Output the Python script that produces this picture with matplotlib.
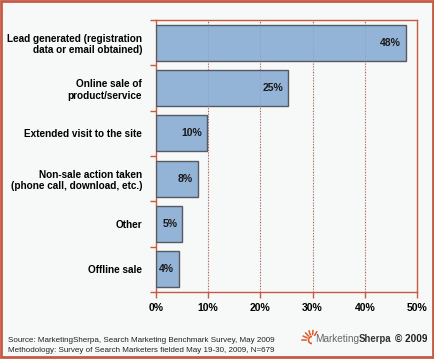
import numpy as np
import matplotlib.pyplot as plt
from matplotlib.lines import Line2D
from matplotlib.patches import Rectangle, Arc

plt.rcParams['font.family'] = ['Liberation Sans', 'DejaVu Sans']

categories = ['Lead generated (registration\ndata or email obtained)',
              'Online sale of\nproduct/service',
              'Extended visit to the site',
              'Non-sale action taken\n(phone call, download, etc.)',
              'Other',
              'Offline sale']
values = [47.9, 25.3, 9.7, 8.0, 5.0, 4.4]
value_labels = ['48%', '25%', '10%', '8%', '5%', '4%']
xticks = [0, 10, 20, 30, 40, 50]
xtick_labels = ['0%', '10%', '20%', '30%', '40%', '50%']
source_lines = ['Source: MarketingSherpa, Search Marketing Benchmark Survey, May 2009',
                'Methodology: Survey of Search Marketers fielded May 19-30, 2009, N=679']

red = '#C55A45'
bg = '#F7F8F8'

fig = plt.figure(figsize=(4.35, 3.59), dpi=100, facecolor=bg)
ax = fig.add_axes([156/435, 1-292/359, 261/435, 272/359])
ax.set_facecolor(bg)

y = np.arange(len(categories))
ax.barh(y, values, height=0.8, color='#93B3D7', edgecolor='#555a60', linewidth=1.0, zorder=3)
for yi, v, lab in zip(y, values, value_labels):
    ax.annotate(lab, (v, yi), xytext=(-3.5, 0), textcoords='offset points',
                ha='right', va='center', fontsize=7.5, fontweight='bold', color='#1a1a1a', zorder=4)

ax.set_xlim(0, 50)
ax.set_ylim(len(categories) - 0.5, -0.5)
ax.set_xticks(xticks)
ax.set_xticklabels(xtick_labels, fontsize=7.5, fontweight='bold')
ax.set_yticks(y)
ax.set_yticklabels(categories, fontsize=7.2, fontweight='bold')
ax.set_yticks(np.arange(len(categories) + 1) - 0.5, minor=True)
ax.tick_params(axis='y', which='major', length=0, pad=10)
ax.tick_params(axis='y', which='minor', length=4, color=red, width=1)
ax.tick_params(axis='x', length=4, color=red, width=1, pad=4)
for s in ax.spines.values():
    s.set_color(red)
    s.set_linewidth(1.0)
for xv in xticks[1:-1]:
    ax.axvline(xv, color=red, linestyle=(0, (1, 1.5)), linewidth=0.8, zorder=1)
    ax.axvline(xv, color='#7f8fa0', linestyle=(0, (1, 1.5)), linewidth=0.6, alpha=0.5, zorder=3.5)

fig.text(8/435, 1-341/359, source_lines[0], fontsize=5.75, va='center', ha='left', color='#222222')
fig.text(8/435, 1-351/359, source_lines[1], fontsize=5.75, va='center', ha='left', color='#222222')

# logo and frame
ax_logo = fig.add_axes([0, 0, 1, 1], facecolor='none')
ax_logo.set_xlim(0, 435)
ax_logo.set_ylim(359, 0)
ax_logo.axis('off')
cx, cy = 312, 340
ax_logo.add_patch(Arc((cx, cy), 7, 7, theta1=90, theta2=270, color='#E05A2B', lw=1.2))
for ang in np.linspace(180, 300, 6):
    a = np.deg2rad(ang)
    ax_logo.add_line(Line2D([cx + 5.5*np.cos(a), cx + 9.5*np.cos(a)],
                            [cy + 5.5*np.sin(a), cy + 9.5*np.sin(a)], color='#E05A2B', lw=1.1))
ax_logo.add_patch(Rectangle((0.8, 0.8), 432.5, 356.5, fill=False, edgecolor=red, lw=2))
t1 = ax_logo.text(315, 339, 'Marketing', fontsize=7.2, color='#666666', va='center', ha='left')
fig.canvas.draw()
bb = t1.get_window_extent().transformed(ax_logo.transData.inverted())
ax_logo.text(bb.x1, 339, 'Sherpa', fontsize=6.9, fontweight='bold', color='#333333', va='center', ha='left')
ax_logo.text(427, 339, '\u00a9 2009', fontsize=7.2, fontweight='bold', color='#222222', va='center', ha='right')

fig.savefig('out.png', dpi=100, facecolor=bg)
